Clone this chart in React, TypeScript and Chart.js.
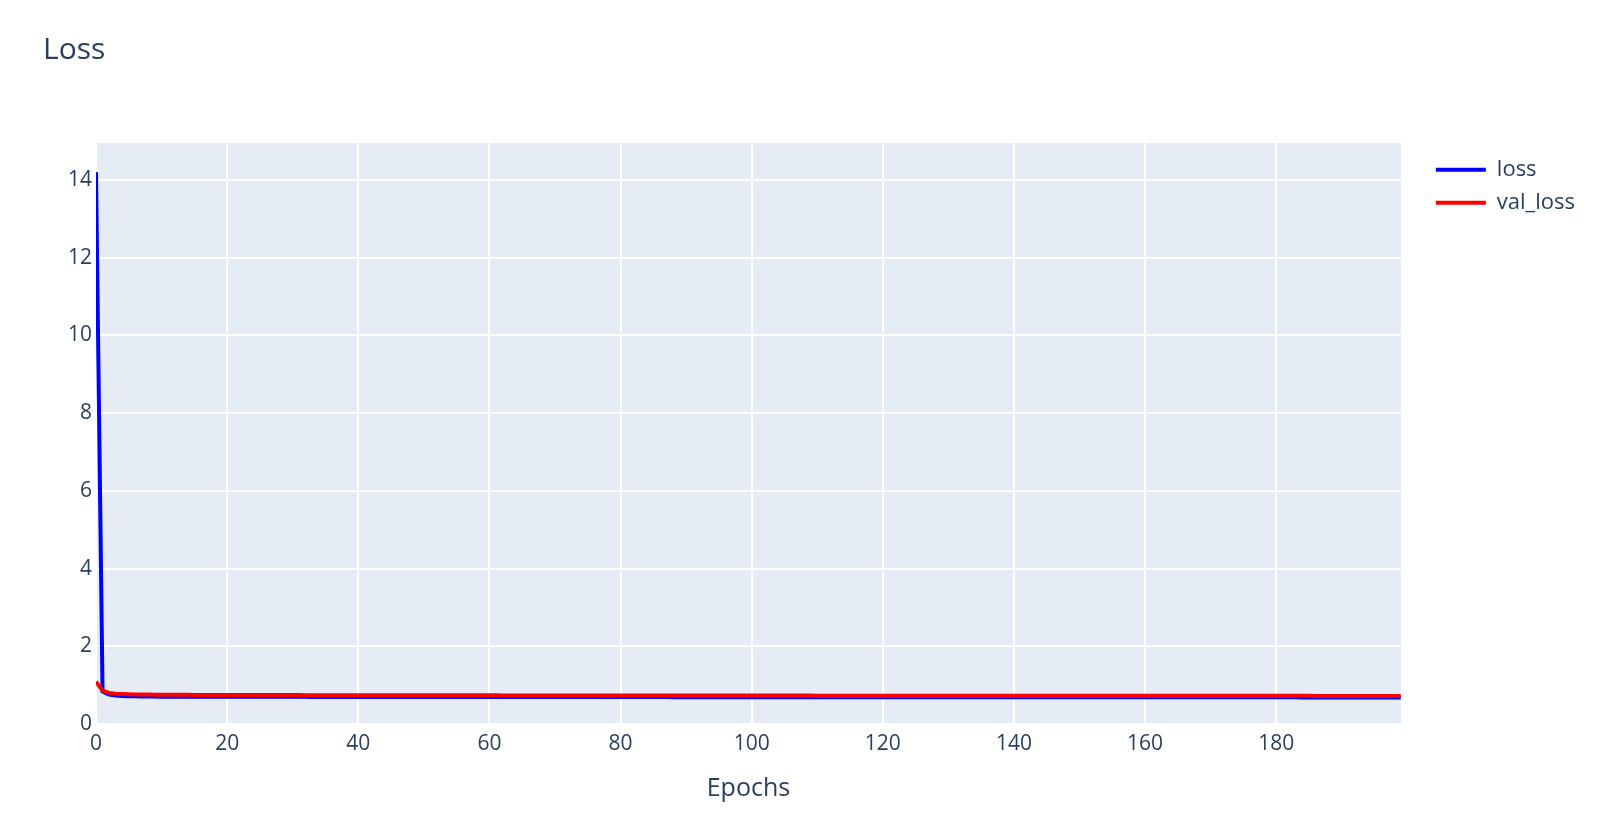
import { useEffect, useRef } from 'react'
import { Chart, registerables } from 'chart.js'

Chart.register(...registerables)

const epochs = [
  0, 1, 2, 3, 4, 5, 6, 7, 8, 9, 10, 11, 12, 13, 14, 15, 16, 17, 18, 19,
  20, 21, 22, 23, 24, 25, 26, 27, 28, 29, 30, 31, 32, 33, 34, 35, 36, 37, 38, 39,
  40, 41, 42, 43, 44, 45, 46, 47, 48, 49, 50, 51, 52, 53, 54, 55, 56, 57, 58, 59,
  60, 61, 62, 63, 64, 65, 66, 67, 68, 69, 70, 71, 72, 73, 74, 75, 76, 77, 78, 79,
  80, 81, 82, 83, 84, 85, 86, 87, 88, 89, 90, 91, 92, 93, 94, 95, 96, 97, 98, 99,
  100, 101, 102, 103, 104, 105, 106, 107, 108, 109, 110, 111, 112, 113, 114, 115, 116, 117, 118, 119,
  120, 121, 122, 123, 124, 125, 126, 127, 128, 129, 130, 131, 132, 133, 134, 135, 136, 137, 138, 139,
  140, 141, 142, 143, 144, 145, 146, 147, 148, 149, 150, 151, 152, 153, 154, 155, 156, 157, 158, 159,
  160, 161, 162, 163, 164, 165, 166, 167, 168, 169, 170, 171, 172, 173, 174, 175, 176, 177, 178, 179,
  180, 181, 182, 183, 184, 185, 186, 187, 188, 189, 190, 191, 192, 193, 194, 195, 196, 197, 198, 199,
]

const loss = [
  14.2, 0.84, 0.76, 0.735, 0.722, 0.715, 0.711, 0.708, 0.706, 0.705,
  0.704, 0.703, 0.703, 0.702, 0.702, 0.701, 0.701, 0.701, 0.700, 0.700,
  0.700, 0.700, 0.699, 0.699, 0.699, 0.699, 0.699, 0.698, 0.698, 0.698,
  0.698, 0.698, 0.698, 0.697, 0.697, 0.697, 0.697, 0.697, 0.697, 0.697,
  0.696, 0.696, 0.696, 0.696, 0.696, 0.696, 0.696, 0.695, 0.695, 0.695,
  0.695, 0.695, 0.695, 0.695, 0.695, 0.695, 0.694, 0.694, 0.694, 0.694,
  0.694, 0.694, 0.694, 0.694, 0.694, 0.694, 0.693, 0.693, 0.693, 0.693,
  0.693, 0.693, 0.693, 0.693, 0.693, 0.693, 0.693, 0.692, 0.692, 0.692,
  0.692, 0.692, 0.692, 0.692, 0.692, 0.692, 0.692, 0.692, 0.691, 0.691,
  0.691, 0.691, 0.691, 0.691, 0.691, 0.691, 0.691, 0.691, 0.691, 0.691,
  0.690, 0.690, 0.690, 0.690, 0.690, 0.690, 0.690, 0.690, 0.690, 0.690,
  0.690, 0.690, 0.689, 0.689, 0.689, 0.689, 0.689, 0.689, 0.689, 0.689,
  0.689, 0.689, 0.689, 0.689, 0.689, 0.688, 0.688, 0.688, 0.688, 0.688,
  0.688, 0.688, 0.688, 0.688, 0.688, 0.688, 0.688, 0.688, 0.688, 0.688,
  0.688, 0.688, 0.688, 0.687, 0.687, 0.687, 0.687, 0.687, 0.687, 0.687,
  0.687, 0.687, 0.687, 0.687, 0.687, 0.687, 0.687, 0.687, 0.687, 0.687,
  0.687, 0.687, 0.687, 0.686, 0.686, 0.686, 0.686, 0.686, 0.686, 0.686,
  0.686, 0.686, 0.686, 0.686, 0.686, 0.686, 0.686, 0.686, 0.686, 0.686,
  0.686, 0.686, 0.686, 0.686, 0.685, 0.685, 0.685, 0.685, 0.685, 0.685,
  0.685, 0.685, 0.685, 0.685, 0.685, 0.685, 0.685, 0.685, 0.685, 0.685,
]

const valLoss = [
  1.09, 0.86, 0.80, 0.78, 0.772, 0.766, 0.762, 0.759, 0.757, 0.755,
  0.754, 0.753, 0.752, 0.751, 0.750, 0.749, 0.749, 0.748, 0.748, 0.747,
  0.747, 0.746, 0.746, 0.745, 0.745, 0.745, 0.744, 0.744, 0.744, 0.743,
  0.743, 0.743, 0.742, 0.742, 0.742, 0.742, 0.741, 0.741, 0.741, 0.741,
  0.741, 0.740, 0.740, 0.740, 0.740, 0.739, 0.739, 0.739, 0.739, 0.739,
  0.738, 0.738, 0.738, 0.738, 0.738, 0.738, 0.737, 0.737, 0.737, 0.737,
  0.737, 0.737, 0.736, 0.736, 0.736, 0.736, 0.736, 0.736, 0.736, 0.735,
  0.735, 0.735, 0.735, 0.735, 0.735, 0.735, 0.735, 0.734, 0.734, 0.734,
  0.734, 0.734, 0.734, 0.734, 0.734, 0.733, 0.733, 0.733, 0.733, 0.733,
  0.733, 0.733, 0.733, 0.733, 0.732, 0.732, 0.732, 0.732, 0.732, 0.732,
  0.732, 0.732, 0.731, 0.731, 0.731, 0.731, 0.731, 0.731, 0.731, 0.731,
  0.730, 0.730, 0.730, 0.730, 0.730, 0.730, 0.730, 0.730, 0.730, 0.729,
  0.729, 0.729, 0.729, 0.729, 0.729, 0.729, 0.729, 0.729, 0.728, 0.728,
  0.728, 0.728, 0.728, 0.728, 0.728, 0.728, 0.728, 0.728, 0.727, 0.727,
  0.727, 0.727, 0.727, 0.727, 0.727, 0.727, 0.727, 0.727, 0.727, 0.726,
  0.726, 0.726, 0.726, 0.726, 0.726, 0.726, 0.726, 0.726, 0.726, 0.726,
  0.726, 0.725, 0.725, 0.725, 0.725, 0.725, 0.725, 0.725, 0.725, 0.725,
  0.725, 0.725, 0.725, 0.724, 0.724, 0.724, 0.724, 0.724, 0.724, 0.724,
  0.724, 0.724, 0.724, 0.724, 0.724, 0.724, 0.723, 0.723, 0.723, 0.723,
  0.723, 0.723, 0.723, 0.723, 0.723, 0.723, 0.723, 0.723, 0.723, 0.723,
]

const TEXT = '#2a3f5f'
const FONT = "'Open Sans', verdana, arial, sans-serif"

// plotly-style grey-blue plot background
const plotBg = {
  id: 'plotBg',
  beforeDraw(chart: Chart) {
    const { ctx, chartArea: { left, top, width, height } } = chart
    ctx.save()
    ctx.fillStyle = '#e5ecf6'
    ctx.fillRect(left, top, width, height)
    ctx.restore()
  },
}

export default function App() {
  const canvasRef = useRef<HTMLCanvasElement>(null)
  const chartRef = useRef<Chart | null>(null)

  useEffect(() => {
    if (!canvasRef.current) return
    if (chartRef.current) chartRef.current.destroy()

    Chart.defaults.font.family = FONT
    Chart.defaults.color = TEXT

    chartRef.current = new Chart(canvasRef.current, {
      type: 'line',
      data: {
        labels: epochs,
        datasets: [
          {
            label: 'loss',
            data: loss,
            borderColor: '#0000ff',
            backgroundColor: '#0000ff',
            borderWidth: 4,
            pointRadius: 0,
            tension: 0,
            order: 1,
          },
          {
            label: 'val_loss',
            data: valLoss,
            borderColor: '#ff0000',
            backgroundColor: '#ff0000',
            borderWidth: 4,
            pointRadius: 0,
            tension: 0,
            order: 0,
          },
        ],
      },
      options: {
        responsive: true,
        maintainAspectRatio: false,
        animation: false,
        events: [],
        layout: { padding: { left: 43, right: 15, top: 0, bottom: 0 } },
        plugins: {
          title: {
            display: true,
            text: 'Loss',
            align: 'start',
            color: TEXT,
            font: { size: 30, weight: 'normal', family: FONT },
            padding: { top: 32, bottom: 75 },
          },
          legend: {
            position: 'right',
            align: 'start',
            fullSize: false,
            // blank title only nudges the items down a few px
            title: { display: true, text: ' ', font: { size: 4 }, padding: 0 },
            labels: {
              color: TEXT,
              font: { size: 22, family: FONT },
              boxWidth: 50,
              boxHeight: 4,
              padding: 11,
              sort: (a, b) => (a.datasetIndex ?? 0) - (b.datasetIndex ?? 0),
              generateLabels: chart =>
                Chart.defaults.plugins.legend.labels.generateLabels(chart).map(l => ({
                  ...l,
                  lineWidth: 0,
                  fillStyle: l.strokeStyle,
                })),
            },
          },
          tooltip: { enabled: false },
        },
        scales: {
          x: {
            type: 'linear',
            min: 0,
            max: 199,
            grid: { color: '#ffffff', lineWidth: 2, drawTicks: false },
            border: { display: false },
            ticks: { stepSize: 20, includeBounds: false, padding: 7, color: TEXT, font: { size: 21 } },
            title: {
              display: true,
              text: 'Epochs',
              color: TEXT,
              font: { size: 25 },
              padding: { top: 0, bottom: 27 },
            },
            afterFit: s => { s.height = 107 },
          },
          y: {
            type: 'linear',
            min: 0,
            max: 14.95,
            grid: { color: '#ffffff', lineWidth: 2, drawTicks: false },
            border: { display: false },
            ticks: { stepSize: 2, includeBounds: false, padding: 4, color: TEXT, font: { size: 21 } },
            afterFit: s => { s.width = 53 },
          },
          // empty spacer between plot and legend
          y2: {
            type: 'linear',
            position: 'right',
            grid: { display: false, drawTicks: false },
            border: { display: false },
            ticks: { display: false },
            afterFit: s => { s.width = 24 },
          },
        },
      },
      plugins: [plotBg],
    })

    return () => { chartRef.current?.destroy() }
  }, [])

  return (
    <div style={{ position: 'fixed', left: 0, top: 0, width: 1600, height: 831, background: '#fff' }}>
      <canvas ref={canvasRef} />
    </div>
  )
}
